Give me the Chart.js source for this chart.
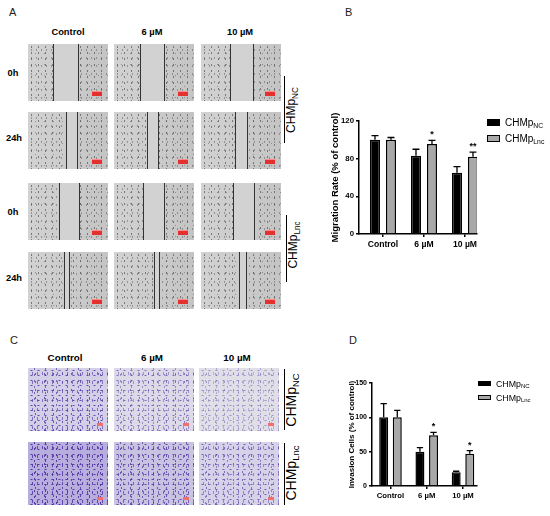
<!DOCTYPE html>
<html>
<head>
<meta charset="utf-8">
<script src="https://cdn.jsdelivr.net/npm/chart.js@4.4.0/dist/chart.umd.min.js"></script>
<style>
  body { margin: 0; background: #fff; font-family: "Liberation Sans", Arial, sans-serif; }
  #fig { position: relative; width: 550px; height: 516px; overflow: hidden; }
  .abs { position: absolute; }
  .lab { position: absolute; font-size: 11px; color: #222; }
  .hdr { position: absolute; font-weight: bold; font-size: 9.3px; transform: translate(-50%, -50%); white-space: nowrap; }
  .rot { position: absolute; transform: translate(-50%, -50%) rotate(-90deg); white-space: nowrap; }
  .vline { position: absolute; width: 1px; background: #000; }
  .wound {
    position: absolute; width: 80px; height: 57px;
    background-color: #cbcbcb;
    background-image:
      radial-gradient(circle, rgba(50,50,50,0.55) 0 0.6px, transparent 1px),
      radial-gradient(circle, rgba(70,70,70,0.45) 0 0.6px, transparent 1px),
      radial-gradient(circle, rgba(60,60,60,0.4) 0 0.5px, transparent 0.9px),
      linear-gradient(90deg, #d2d2d2, #c4c4c4);
    background-size: 7px 6px, 9px 11px, 5px 8px, 100% 100%;
    background-position: 0 0, 3px 4px, 1px 2px, 0 0;
  }
  .gap { position: absolute; top: 0; bottom: 0; background: #d2d2d2; border-left: 1.5px solid #333; border-right: 1.5px solid #333; }
  .sbar { position: absolute; right: 6px; bottom: 5px; width: 10px; height: 4px; background: #e53030; border-top: 1px solid #f88; }
  .trans {
    position: absolute; width: 80px; height: 63px;
    background-color: var(--bg);
    background-image:
      radial-gradient(ellipse, rgba(80,50,165,var(--a)) 0 0.8px, transparent 1.2px),
      radial-gradient(ellipse, rgba(95,65,175,var(--a)) 0 0.7px, transparent 1.1px),
      radial-gradient(ellipse, rgba(70,40,150,var(--b)) 0 0.9px, transparent 1.3px),
      radial-gradient(ellipse, rgba(90,60,170,var(--b)) 0 0.6px, transparent 1px);
    background-size: 7px 5px, 9px 8px, 11px 6px, 5px 9px;
    background-position: 0 0, 3px 2px, 1px 4px, 2px 1px;
  }
  .tbar { position: absolute; right: 5px; bottom: 5px; width: 6px; height: 3px; background: #f07070; }
  .leg { position: absolute; font-size: 10px; white-space: nowrap; transform: translateY(-50%); }
  .box { position: absolute; border: 1.2px solid #000; box-sizing: border-box; }
  sub { font-size: 0.68em; vertical-align: -0.25em; }
</style>
</head>
<body>
<div id="fig">
  <div class="lab" style="left:9px;top:6px">A</div>
  <div class="lab" style="left:345px;top:6px">B</div>
  <div class="lab" style="left:10px;top:334px">C</div>
  <div class="lab" style="left:349px;top:334px">D</div>

  <div class="abs" style="left:320px;top:100px;width:200px;height:160px"><canvas id="chartB" width="200" height="160"></canvas></div>
  <div class="abs" style="left:340px;top:365px;width:180px;height:140px"><canvas id="chartD" width="180" height="140"></canvas></div>
</div>
<script>
// shared categories
const categories = ["Control", "6 µM", "10 µM"];

// B: migration rate (% of control)
const migNC = [100, 83, 65];
const migNCErr = [4.5, 7, 6.5];
const migLnc = [100, 95.5, 82];
const migLncErr = [2.5, 4, 5];
const migSig = ["", "*", "**"];
const migTicks = [0, 40, 80, 120];

// D: invasion cells (% of control)
const invNC = [100, 50, 20];
const invNCErr = [20, 6, 1.5];
const invLnc = [100, 74, 47];
const invLncErr = [10, 4, 4.5];
const invSig = ["", "*", "*"];
const invTicks = [0, 50, 100, 150];

const fig = document.getElementById("fig");
function el(cls, style, html) {
  const d = document.createElement("div");
  d.className = cls;
  d.style.cssText = style;
  if (html) d.innerHTML = html;
  fig.appendChild(d);
  return d;
}

// --- panel A: scratch photos (placeholders) ---
const colA = [28, 114, 201];
const rowA = [44, 112, 183, 252];
const gapsA = [
  [[25, 49], [26, 49], [29, 51]],
  [[38, 48], [33, 43], [34, 45]],
  [[31, 50], [29, 49], [32, 52]],
  [[36, 40], [40, 44], [38, 44]]
];
rowA.forEach((y, r) => {
  colA.forEach((x, c) => {
    const p = el("wound", "left:" + x + "px;top:" + y + "px");
    const g = document.createElement("div");
    g.className = "gap";
    g.style.left = gapsA[r][c][0] + "px";
    g.style.width = (gapsA[r][c][1] - gapsA[r][c][0]) + "px";
    p.appendChild(g);
    const s = document.createElement("div");
    s.className = "sbar";
    p.appendChild(s);
  });
});
["Control", "6 µM", "10 µM"].forEach((t, i) => el("hdr", "left:" + [68, 152, 240][i] + "px;top:32px", t));
[["0h", 73], ["24h", 138], ["0h", 212], ["24h", 278]].forEach(([t, y]) =>
  el("hdr", "left:" + (t === "0h" ? 13 : 14) + "px;top:" + y + "px", t));
el("vline", "left:284px;top:76px;height:67px");
el("rot", "left:292px;top:110px;font-size:12px", "CHMp<sub>NC</sub>");
el("vline", "left:286px;top:215px;height:67px");
el("rot", "left:294px;top:245px;font-size:12px", "CHMp<sub>Lnc</sub>");

// --- panel C: transwell photos (placeholders) ---
const colC = [28, 114, 199];
const rowC = [368, 442];
const dens = [
  [[0.85, 0.65, "#d3cfe6"], [0.65, 0.45, "#dcdae7"], [0.45, 0.3, "#e0dfe8"]],
  [[0.95, 0.9, "#b8aedd"], [0.85, 0.7, "#c9c3e2"], [0.7, 0.5, "#d6d2e7"]]
];
rowC.forEach((y, r) => {
  colC.forEach((x, c) => {
    const [a, b, bg] = dens[r][c];
    const p = el("trans", "left:" + x + "px;top:" + y + "px;--a:" + a + ";--b:" + b + ";--bg:" + bg);
    const s = document.createElement("div");
    s.className = "tbar";
    p.appendChild(s);
  });
});
["Control", "6 µM", "10 µM"].forEach((t, i) => el("hdr", "left:" + [65, 152, 237][i] + "px;top:357px;font-size:9.8px", t));
el("vline", "left:284px;top:369px;height:61px");
el("rot", "left:292px;top:400px;font-size:14px", "CHMp<sub>NC</sub>");
el("vline", "left:284px;top:443px;height:62px");
el("rot", "left:292px;top:473px;font-size:14px", "CHMp<sub>Lnc</sub>");

// legends for B and D
function legend(x, y1, y2, bw, bh, fs) {
  el("box", "left:" + x + "px;top:" + (y1 - bh / 2) + "px;width:" + bw + "px;height:" + bh + "px;background:#000");
  el("leg", "left:" + (x + bw + 5) + "px;top:" + y1 + "px;font-size:" + fs + "px", "CHMp<sub>NC</sub>");
  el("box", "left:" + x + "px;top:" + (y2 - bh / 2) + "px;width:" + bw + "px;height:" + bh + "px;background:#a8a8a8");
  el("leg", "left:" + (x + bw + 5) + "px;top:" + y2 + "px;font-size:" + fs + "px", "CHMp<sub>Lnc</sub>");
}
legend(487, 122.5, 138.5, 13, 7, 10);
legend(478, 383.5, 397.5, 13, 5, 8.8);

// error bars + significance stars
const errBars = {
  id: "errBars",
  afterDatasetsDraw(chart) {
    const ctx = chart.ctx, ys = chart.scales.y;
    chart.data.datasets.forEach((ds, d) => {
      chart.getDatasetMeta(d).data.forEach((bar, i) => {
        const top = ys.getPixelForValue(ds.data[i].y + ds.err[i]);
        const half = bar.width * 0.35;
        ctx.save();
        ctx.strokeStyle = "#000";
        ctx.lineWidth = 1.3;
        ctx.beginPath();
        ctx.moveTo(bar.x, bar.y);
        ctx.lineTo(bar.x, top);
        ctx.moveTo(bar.x - half, top);
        ctx.lineTo(bar.x + half, top);
        ctx.stroke();
        if (ds.sig && ds.sig[i]) {
          ctx.fillStyle = "#000";
          ctx.font = "bold 9px 'Liberation Sans', Arial";
          ctx.textAlign = "center";
          ctx.fillText(ds.sig[i], bar.x, top - 3);
        }
        ctx.restore();
      });
    });
  }
};

function barChart(id, nc, ncErr, lnc, lncErr, sig, yTicks, yTitle, o) {
  const pts = arr => arr.map((v, i) => ({ x: i, y: v }));
  const axisGrid = { drawOnChartArea: false, color: "#000", tickLength: 3, lineWidth: 1.5, offset: false };
  const axisBorder = { color: "#000", width: 1.5 };
  return new Chart(document.getElementById(id), {
    type: "bar",
    data: {
      datasets: [
        { label: "CHMpNC", data: pts(nc), err: ncErr, backgroundColor: "#000", borderColor: "#000", borderWidth: 1.5,
          categoryPercentage: o.cp, barPercentage: o.bp },
        { label: "CHMpLnc", data: pts(lnc), err: lncErr, sig: sig, backgroundColor: "#a8a8a8", borderColor: "#000", borderWidth: 1.5,
          categoryPercentage: o.cp, barPercentage: o.bp }
      ]
    },
    options: {
      responsive: false,
      animation: false,
      layout: { padding: { left: 0, right: o.padRight, top: o.padTop, bottom: 0 } },
      plugins: { legend: { display: false }, tooltip: { enabled: false } },
      scales: {
        x: {
          type: "linear", min: o.xMin, max: o.xMax, offset: false,
          afterBuildTicks: s => { s.ticks = categories.map((c, i) => ({ value: i })); },
          afterFit: s => { s.height = o.xHeight; },
          ticks: { callback: v => categories[v], autoSkip: false, maxRotation: 0, padding: 2, color: "#000",
                   font: { family: "'Liberation Sans', Arial", weight: "bold", size: o.catSize } },
          grid: axisGrid, border: axisBorder
        },
        y: {
          min: 0, max: yTicks[yTicks.length - 1],
          afterBuildTicks: s => { s.ticks = yTicks.map(v => ({ value: v })); },
          afterFit: s => { s.width = o.yWidth; },
          title: { display: true, text: yTitle, color: "#000", padding: { top: o.titlePad, bottom: 0 },
                   font: { family: "'Liberation Sans', Arial", weight: "bold", size: o.titleSize } },
          ticks: { padding: 2, color: "#000", font: { family: "'Liberation Sans', Arial", weight: "bold", size: o.tickSize } },
          grid: axisGrid, border: axisBorder
        }
      }
    },
    plugins: [errBars]
  });
}

barChart("chartB", migNC, migNCErr, migLnc, migLncErr, migSig, migTicks, "Migration Rate (% of control)",
  { xMin: -0.585, xMax: 2.293, cp: 0.78, bp: 0.625, padRight: 43, padTop: 21, xHeight: 26, yWidth: 39,
    titlePad: 9.3, titleSize: 9.5, tickSize: 7.8, catSize: 8.6 });
barChart("chartD", invNC, invNCErr, invLnc, invLncErr, invSig, invTicks, "Invasion Cells (% of control)",
  { xMin: -0.51, xMax: 2.387, cp: 0.75, bp: 0.66, padRight: 43, padTop: 18, xHeight: 19, yWidth: 32,
    titlePad: 6.7, titleSize: 8, tickSize: 7, catSize: 7.7 });
</script>
</body>
</html>
